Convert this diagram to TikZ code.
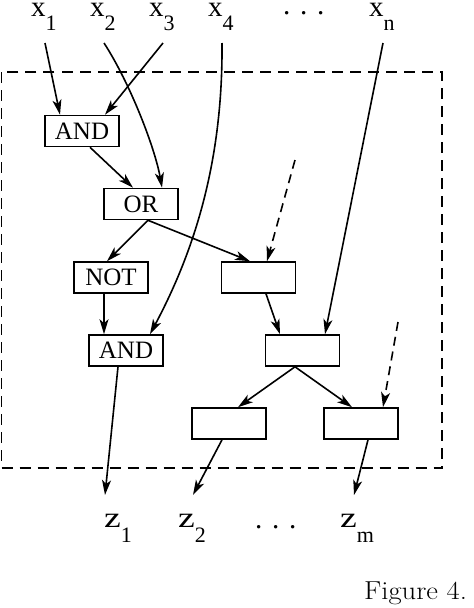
\documentclass[tikz,border=0pt]{standalone}
\usepackage{fontspec}
\newfontfamily\tms{Liberation Serif}
\newfontfamily\tmsw[FakeStretch=1.3]{Liberation Serif}
\newfontfamily\lmw[FakeStretch=1.1]{Latin Modern Roman}
\usetikzlibrary{arrows.meta,calc}
\begin{document}
\begin{tikzpicture}[x=1pt,y=-1pt,
  gate/.style={draw,line width=1.6pt,minimum width=74pt,minimum height=31pt,inner sep=0pt,font=\tms\fontsize{25}{25}\selectfont},
  arr/.style={line width=1.6pt,-{Stealth[length=15pt,width=9pt,inset=4pt]}},
  darr/.style={arr,dash pattern=on 9pt off 6pt},
  lab/.style={inner sep=0pt,anchor=base west,font=\tms\fontsize{29}{29}\selectfont},
  toplab/.style={lab,text height=13pt},
  frame/.style={line width=1.6pt,dash pattern=on 11pt off 7pt}]
\useasboundingbox (0,0) rectangle (474,608);
\newcommand{\xsub}[2]{#1\raisebox{-14pt}{\fontsize{22}{22}\selectfont #2}}
\newcommand{\zsub}[2]{{\tmsw #1}\raisebox{-15pt}{\fontsize{22}{22}\selectfont #2}}
% input labels
\node[toplab] (lx1) at (31,16) {\xsub{x}{1}};
\node[toplab] (lx2) at (90,16) {\xsub{x}{2}};
\node[toplab] (lx3) at (149,16) {\xsub{x}{3}};
\node[toplab] (lx4) at (208,16) {\xsub{x}{4}};
\node[toplab] (ldx) at (283,14) {. . .};
\node[toplab] (lxn) at (369,16) {\xsub{x}{n}};
% output labels
\node[lab] (lz1) at (104,527) {\zsub{z}{1}};
\node[lab] (lz2) at (178,527) {\zsub{z}{2}};
\node[lab] (ldz) at (255,528) {. . .};
\node[lab] (lzm) at (340,527) {\zsub{z}{m}};
\node[inner sep=0pt,anchor=base west,font=\lmw\fontsize{26}{26}\selectfont] (fig) at (364,599) {Figure 4.};
% frame
\draw[frame] (1.5,72) rectangle (442,468);
% gates
\node[gate] (and1) at (82,131) {AND};
\node[gate] (or) at (141,204) {OR};
\node[gate] (not) at (111,277.5) {NOT};
\node[gate] (bA) at (258.5,277.5) {};
\node[gate] (and2) at (126,350.5) {AND};
\node[gate] (bB) at (302.5,350.5) {};
\node[gate] (bC) at (229,423.5) {};
\node[gate] (bD) at (361,423.5) {};
% free ends
\coordinate (s1) at (45,43);
\coordinate (s2) at (104,43);
\coordinate (s3) at (163,43);
\coordinate (s4) at (222,43);
\coordinate (sn) at (383,43);
\coordinate (dA) at (295,160);
\coordinate (dD) at (398,322);
\coordinate (e1) at (105,495);
\coordinate (e2) at (193,495);
\coordinate (em) at (354,495);
% connectors
\draw[arr] (s1) -- ([xshift=-22pt]and1.north);
\draw[arr] (s3) -- ([xshift=23pt]and1.north);
\draw[arr] (s2) .. controls (130,83) and (155,148) .. ([xshift=21pt]or.north);
\draw[arr] (s4) .. controls (223,160) and (195,250) .. ([xshift=24pt]and2.north);
\draw[arr] (sn) -- ([xshift=22.5pt]bB.north);
\draw[arr] ([xshift=8pt]and1.south) -- ([xshift=-8pt]or.north);
\draw[arr] ([xshift=7pt]or.south) -- ([xshift=-4pt]not.north);
\draw[arr] ([xshift=7pt]or.south) -- ([xshift=-8.5pt]bA.north);
\draw[darr] (dA) -- ([xshift=8.5pt]bA.north);
\draw[arr] ([xshift=-7pt]not.south) -- ([xshift=-22pt]and2.north);
\draw[arr] ([xshift=7.5pt]bA.south) -- ([xshift=-22.5pt]bB.north);
\draw[arr] ([xshift=-7.5pt]bB.south) -- ([xshift=9pt]bC.north);
\draw[arr] ([xshift=-7.5pt]bB.south) -- ([xshift=-9pt]bD.north);
\draw[darr] (dD) -- ([xshift=22pt]bD.north);
\draw[arr] ([xshift=-8pt]and2.south) -- (e1);
\draw[arr] ([xshift=-7pt]bC.south) -- (e2);
\draw[arr] ([xshift=7pt]bD.south) -- (em);
\end{tikzpicture}
\end{document}
